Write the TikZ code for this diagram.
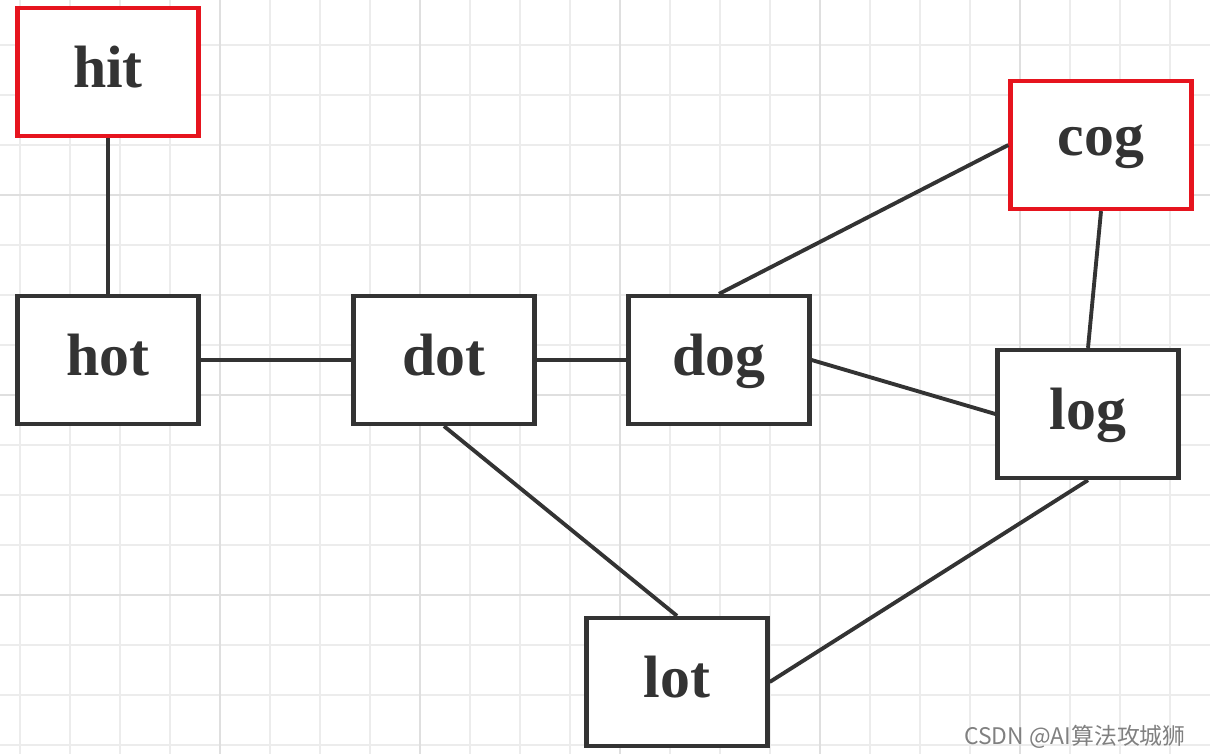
\documentclass[tikz,border=0pt]{standalone}
\usepackage{fontspec}
\setmainfont{Liberation Serif}
\newfontfamily\cjkfont{Noto Sans CJK SC}
\usetikzlibrary{positioning}
\definecolor{boxline}{RGB}{51,51,51}
\definecolor{hotred}{RGB}{230,20,30}
\tikzset{
  word/.style={draw=boxline, line width=1.2pt, fill=white, minimum width=1.81cm, minimum height=1.28cm,
    font=\fontsize{17}{20}\selectfont\bfseries, text=boxline, text depth=0.1cm},
  goal/.style={word, draw=hotred},
  link/.style={draw=boxline, line width=1.1pt}
}
\begin{document}
\begin{tikzpicture}[x=0.01cm, y=-0.01cm]
\useasboundingbox (0,0) rectangle (1210,754);
% background grid
\foreach \gx in {20,70,...,1200} \draw[gray!15, line width=0.4pt] (\gx,0) -- (\gx,754);
\foreach \gy in {45,95,...,754} \draw[gray!15, line width=0.4pt] (0,\gy) -- (1210,\gy);
\foreach \gx in {220,420,...,1200} \draw[gray!25, line width=0.8pt] (\gx,0) -- (\gx,754);
\foreach \gy in {195,395,595} \draw[gray!25, line width=0.8pt] (0,\gy) -- (1210,\gy);

\node[goal] (hit) at (108,72) {hit};
\node[goal] (cog) at (1101,145) {cog};
\node[word] (hot) at (108,360) {hot};
\node[word] (dot) at (444,360) {dot};
\node[word] (dog) at (719,360) {dog};
\node[word] (log) at (1088,414) {log};
\node[word] (lot) at (677,682) {lot};

\draw[link] (hit) -- (hot);
\draw[link] (hot) -- (dot);
\draw[link] (dot) -- (dog);
\draw[link] (dog.north) -- (cog.west);
\draw[link] (cog.south) -- (log.north);
\draw[link] (dog.east) -- (log.west);
\draw[link] (dot.south) -- (lot.north);
\draw[link] (lot.east) -- (log.south);

\node[anchor=east, text=gray, font=\cjkfont\fontsize{6.5}{8}\selectfont] (mark) at (1198,737) {CSDN @AI算法攻城狮};
\end{tikzpicture}
\end{document}
